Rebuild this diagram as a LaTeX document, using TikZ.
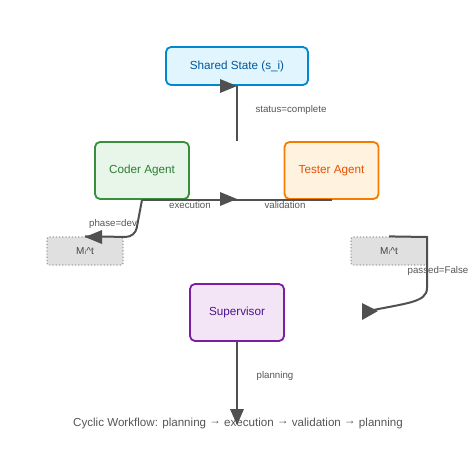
\documentclass[tikz,border=0pt]{standalone}
\usepackage{fontspec}
\setmainfont{Liberation Sans}
\newfontfamily\symfont{DejaVu Sans}
\usetikzlibrary{arrows.meta}
\definecolor{linegray}{HTML}{505050}
\definecolor{labgray}{HTML}{555555}
\definecolor{memtext}{HTML}{444444}
\definecolor{sharedfill}{HTML}{E1F5FE}\definecolor{shareddraw}{HTML}{0288D1}\definecolor{sharedtext}{HTML}{01579B}
\definecolor{coderfill}{HTML}{E8F5E9}\definecolor{coderdraw}{HTML}{388E3C}\definecolor{codertext}{HTML}{2E7D32}
\definecolor{testerfill}{HTML}{FFF3E0}\definecolor{testerdraw}{HTML}{F57C00}\definecolor{testertext}{HTML}{E65100}
\definecolor{supfill}{HTML}{F3E5F5}\definecolor{supdraw}{HTML}{7B1FA2}\definecolor{suptext}{HTML}{4A148C}
\definecolor{memfill}{HTML}{E0E0E0}\definecolor{memdraw}{HTML}{9E9E9E}
\newcommand{\rarr}{\raisebox{1.2pt}{→}}
\tikzset{
  agent/.style={draw, rounded corners=5pt, line width=1.8pt, minimum width=94pt, minimum height=57pt, inner sep=0pt, font=\fontsize{11.7}{13}\selectfont},
  membox/.style={draw=memdraw, fill=memfill, dotted, line width=1.2pt, rounded corners=2pt, minimum width=76pt, minimum height=28pt, inner sep=0pt, text=memtext, font=\fontsize{10}{11}\selectfont},
  conn/.style={draw=linegray, line width=2pt},
  lab/.style={text=labgray, font=\fontsize{9.7}{11}\selectfont, inner sep=0pt},
  tipmark/.style={fill=linegray},
}
\begin{document}
\begin{tikzpicture}[x=1pt,y=-1pt]
\useasboundingbox (0,0) rectangle (474,474);
% nodes
\node[agent, draw=shareddraw, fill=sharedfill, text=sharedtext, minimum width=142pt, minimum height=38pt] (shared) at (237,66) {\raisebox{-2pt}{Shared State (s\_i)}};
\node[agent, draw=coderdraw, fill=coderfill, text=codertext] (coder) at (142,170.5) {\raisebox{2pt}{Coder Agent}};
\node[agent, draw=testerdraw, fill=testerfill, text=testertext] (tester) at (331.5,170.5) {\raisebox{2pt}{Tester Agent}};
\node[agent, draw=supdraw, fill=supfill, text=suptext] (sup) at (237,312.5) {\raisebox{2pt}{Supervisor}};
\node[membox] (memL) at (85,251) {M{\symfont ᵢ}\^{}t};
\node[membox] (memR) at (389,251) {M{\symfont ᵢ}\^{}t};
\node[text=labgray, font=\fontsize{11.6}{13}\selectfont, inner sep=0pt] (caption) at (238,423) {Cyclic Workflow: planning \rarr{} execution \rarr{} validation \rarr{} planning};
% labels
\node[lab] (lstatus) at (291,110) {status=complete};
\node[lab] (lexec) at (190,205) {execution};
\node[lab] (lvalid) at (285,205) {validation};
\node[lab] (lphase) at (113,224) {phase=dev};
\node[lab] (lpassed) at (438,271) {passed=False};
\node[lab] (lplan) at (275,376) {planning};
% coordinates
\coordinate (mid) at (237,141);
\coordinate (retR) at (364,312);
\coordinate (botend) at (237,424);
% connectors
\draw[conn] (mid) -- (shared.south);
\fill[tipmark] (237,86) -- (220,79) -- (220,93) -- cycle;
\draw[conn] (coder.south) -- (tester.south);
\fill[tipmark] (237,199) -- (220,192) -- (220,206) -- cycle;
\draw[conn, rounded corners=9pt] (coder.south) -- (135,237) -- (memL.north);
\fill[tipmark] (85,237) -- (102,230) -- (102,244) -- cycle;
\draw[conn] (memR.north) -- (427,237) -- (427,288) .. controls (427,303) and (405,303) .. (retR);
\fill[tipmark] (378,311) -- (362,303) -- (362,320) -- cycle;
\draw[conn] (sup.south) -- (botend);
\fill[tipmark] (237,425) -- (230,409) -- (244,409) -- cycle;
\end{tikzpicture}
\end{document}
